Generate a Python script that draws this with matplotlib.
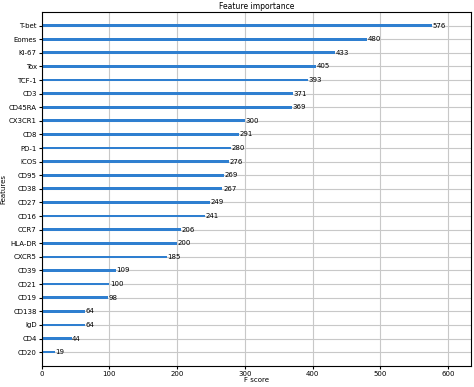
import matplotlib
matplotlib.use('Agg')
import matplotlib.pyplot as plt
import numpy as np

# feature importance values (top to bottom)
features = ['T-bet', 'Eomes', 'Ki-67', 'Tox', 'TCF-1', 'CD3', 'CD45RA', 'CX3CR1',
            'CD8', 'PD-1', 'ICOS', 'CD95', 'CD38', 'CD27', 'CD16', 'CCR7',
            'HLA-DR', 'CXCR5', 'CD39', 'CD21', 'CD19', 'CD138', 'IgD', 'CD4', 'CD20']
scores = [576, 480, 433, 405, 393, 371, 369, 300, 291, 280, 276, 269, 267, 249,
          241, 206, 200, 185, 109, 100, 98, 64, 64, 44, 19]

# reverse so that the biggest is on top
labels = features[::-1]
values = scores[::-1]
ylocs = np.arange(len(values))

fs = 5
fig = plt.figure(figsize=(4.74, 3.87), dpi=100)
ax = fig.add_axes([0.088, 0.055, 0.905, 0.914])

ax.barh(ylocs, values, align='center', height=0.2, color='#2f7fd0')
for x, y in zip(values, ylocs):
    ax.text(x + 1, y, x, va='center', fontsize=fs)

ax.set_yticks(ylocs)
ax.set_yticklabels(labels)
ax.set_xlim(0, max(values) * 1.1)
ax.set_ylim(-1, len(values))
ax.set_title('Feature importance', fontsize=fs + 0.5, pad=2)
ax.set_xlabel('F score', fontsize=fs, labelpad=0)
ax.set_ylabel('Features', fontsize=fs, labelpad=2)
ax.tick_params(labelsize=fs, length=2, pad=1.5)
ax.grid(True, color='#c8c8c8', linewidth=0.8)
ax.set_axisbelow(True)

fig.savefig('out.png', dpi=100)
